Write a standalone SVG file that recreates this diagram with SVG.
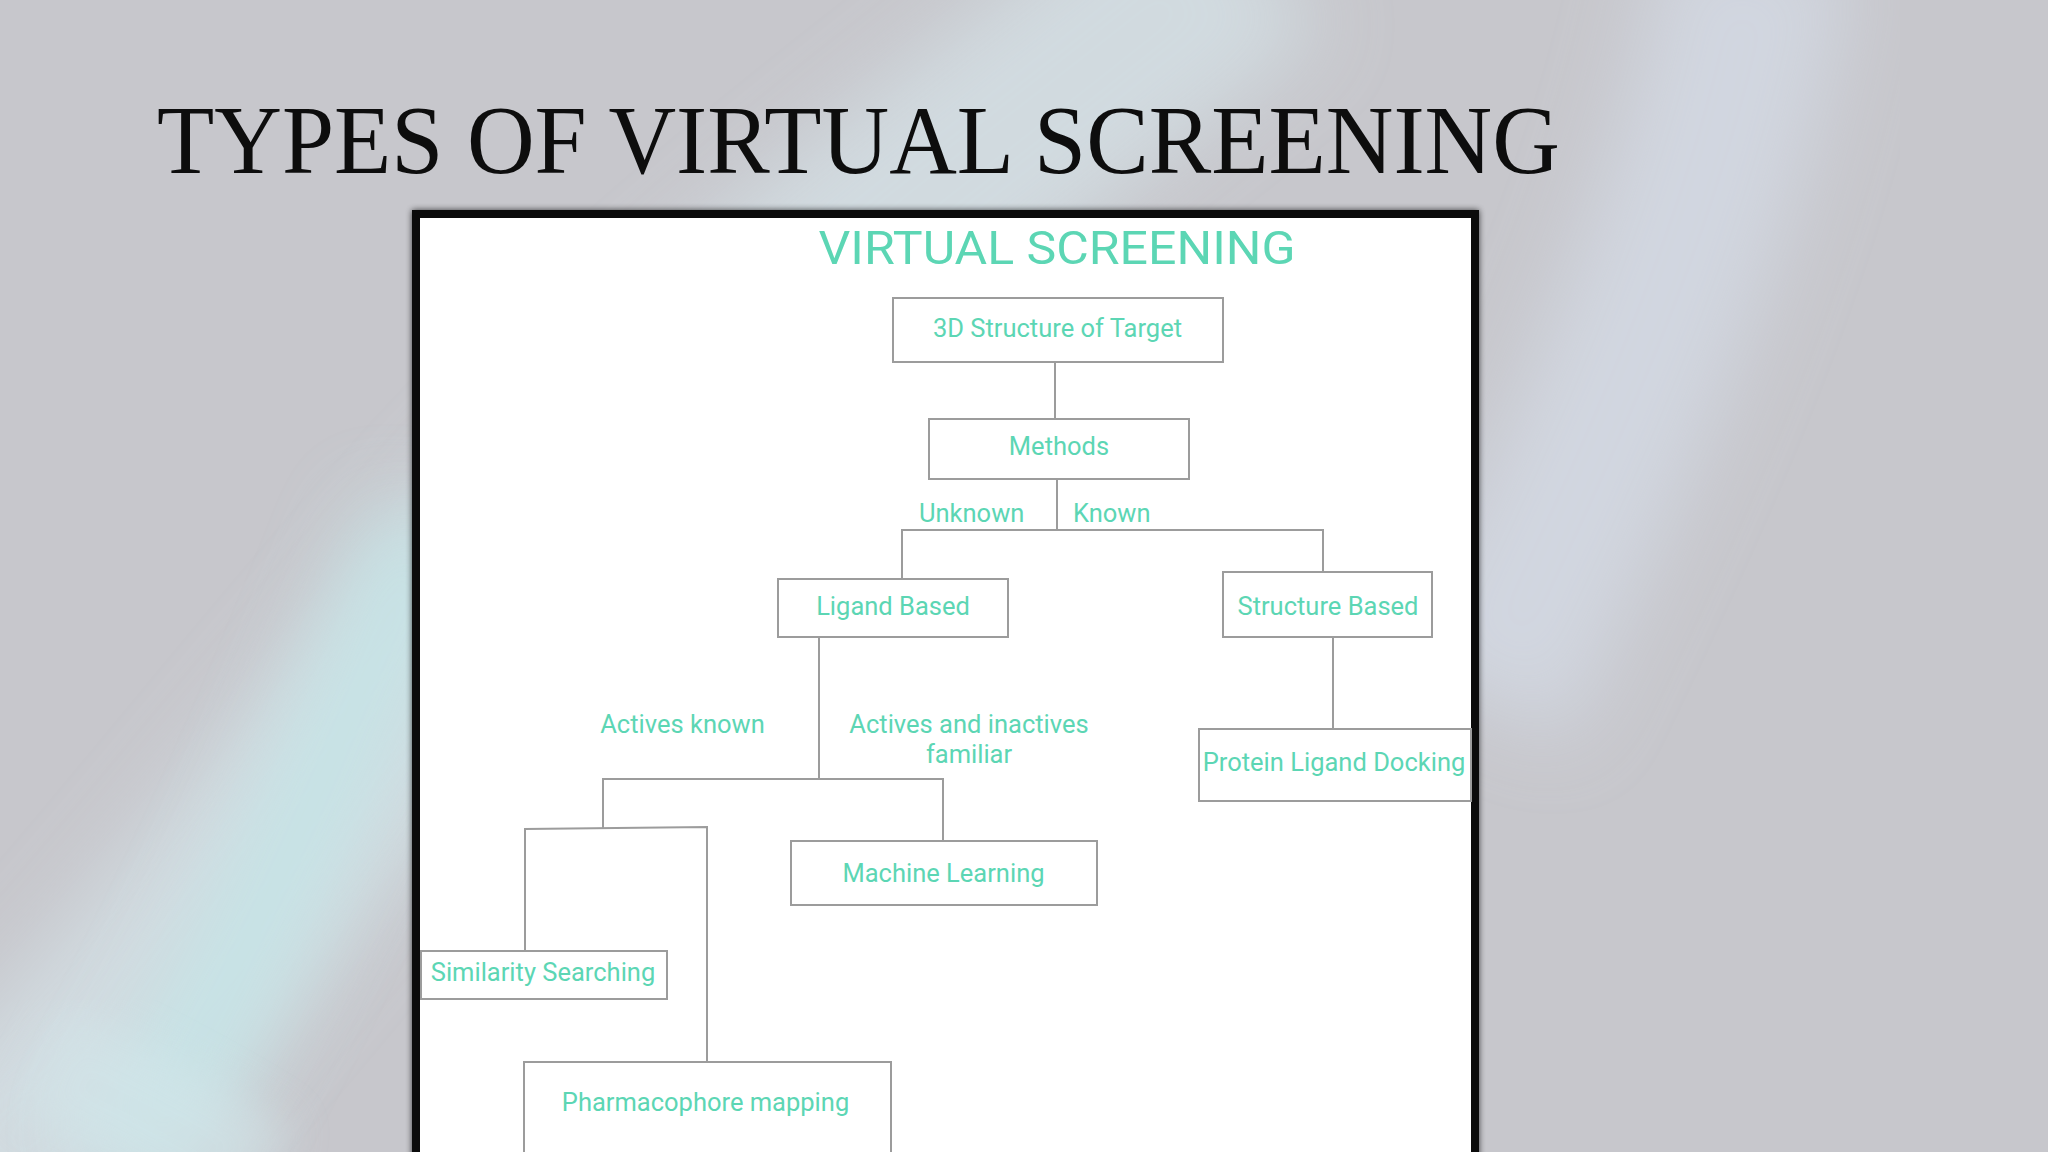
<svg xmlns="http://www.w3.org/2000/svg" width="2048" height="1152" viewBox="0 0 2048 1152">
  <defs>
    <filter id="blur40" x="-50%" y="-50%" width="200%" height="200%"><feGaussianBlur stdDeviation="40"/></filter>
    <filter id="blur20" x="-50%" y="-50%" width="200%" height="200%"><feGaussianBlur stdDeviation="20"/></filter>
    <filter id="shadow" x="-10%" y="-10%" width="120%" height="120%"><feGaussianBlur stdDeviation="3"/></filter>
    <style>
      .box { fill: #ffffff; stroke: #9c9c9c; stroke-width: 2; }
      .lbl { font-family: Roboto, "Liberation Sans", sans-serif; font-size: 25.5px; fill: #5cd6b4; }
      .mid { text-anchor: middle; }
      .conn { stroke: #9c9c9c; stroke-width: 2; fill: none; }
    </style>
  </defs>

  <!-- background -->
  <rect x="0" y="0" width="2048" height="1152" fill="#c7c7cc"/>
  <g>
    <path d="M 1250 -60 C 1000 150, 720 330, 470 620 S 150 1020, -60 1220" stroke="#d6e3e8" stroke-width="230" fill="none" filter="url(#blur40)" opacity="0.7"/>
    <path d="M 430 520 C 350 720, 270 920, 130 1170" stroke="#c4e6e8" stroke-width="120" fill="none" filter="url(#blur40)" opacity="0.75"/>
    <path d="M 1760 -60 C 1720 200, 1600 450, 1480 700" stroke="#d6dde8" stroke-width="190" fill="none" filter="url(#blur40)" opacity="0.7"/>
    <path d="M 40 1060 C 120 1100, 200 1140, 260 1180" stroke="#d3e6ea" stroke-width="120" fill="none" filter="url(#blur20)" opacity="0.55"/>
  </g>

  <!-- slide title -->
  <text x="157" y="173" font-family="'Liberation Serif', 'Times New Roman', serif" font-size="97" fill="#0d0d0d" textLength="1403" lengthAdjust="spacingAndGlyphs">TYPES OF VIRTUAL SCREENING</text>

  <!-- picture frame -->
  <rect x="412" y="210" width="1067" height="980" fill="#000" filter="url(#shadow)" opacity="0.7"/>
  <rect x="416" y="214" width="1059" height="960" fill="#ffffff" stroke="#0b0b0b" stroke-width="8"/>

  <!-- diagram title -->
  <text x="1057" y="264" class="mid" font-family="Roboto, 'Liberation Sans', sans-serif" font-size="47" fill="#5cd6b4" textLength="477" lengthAdjust="spacingAndGlyphs">VIRTUAL SCREENING</text>

  <!-- connectors -->
  <g id="connectors" class="conn">
    <line x1="1055" y1="362" x2="1055" y2="419"/>
    <line x1="1057" y1="479" x2="1057" y2="530"/>
    <polyline points="902,579 902,530 1323,530 1323,572"/>
    <line x1="1333" y1="637" x2="1333" y2="729"/>
    <line x1="819" y1="637" x2="819" y2="779"/>
    <polyline points="603,828 603,779 943,779 943,841"/>
    <polyline points="525,951 525,829 707,827 707,1062"/>
  </g>

  <!-- edge labels -->
  <g id="edge-labels">
    <text x="919" y="522" class="lbl">Unknown</text>
    <text x="1073" y="522" class="lbl">Known</text>
    <text x="682.5" y="733" class="lbl mid">Actives known</text>
    <text x="969" y="733" class="lbl mid">Actives and inactives</text>
    <text x="969" y="763" class="lbl mid">familiar</text>
  </g>

  <!-- nodes -->
  <g id="node-target">
    <rect x="893" y="298" width="330" height="64" class="box"/>
    <text x="1057.5" y="337" class="lbl mid">3D Structure of Target</text>
  </g>
  <g id="node-methods">
    <rect x="929" y="419" width="260" height="60" class="box"/>
    <text x="1059" y="455" class="lbl mid">Methods</text>
  </g>
  <g id="node-ligand">
    <rect x="778" y="579" width="230" height="58" class="box"/>
    <text x="893" y="615" class="lbl mid">Ligand Based</text>
  </g>
  <g id="node-structure">
    <rect x="1223" y="572" width="209" height="65" class="box"/>
    <text x="1328" y="615" class="lbl mid">Structure Based</text>
  </g>
  <g id="node-docking">
    <rect x="1199" y="729" width="272" height="72" class="box"/>
    <text x="1334" y="771" class="lbl mid">Protein Ligand Docking</text>
  </g>
  <g id="node-ml">
    <rect x="791" y="841" width="306" height="64" class="box"/>
    <text x="943.5" y="882" class="lbl mid">Machine Learning</text>
  </g>
  <g id="node-similarity">
    <rect x="421" y="951" width="246" height="48" class="box"/>
    <text x="543" y="981" class="lbl mid">Similarity Searching</text>
  </g>
  <g id="node-pharmacophore">
    <rect x="524" y="1062" width="367" height="100" class="box"/>
    <text x="705.5" y="1111" class="lbl mid">Pharmacophore mapping</text>
  </g>
</svg>
